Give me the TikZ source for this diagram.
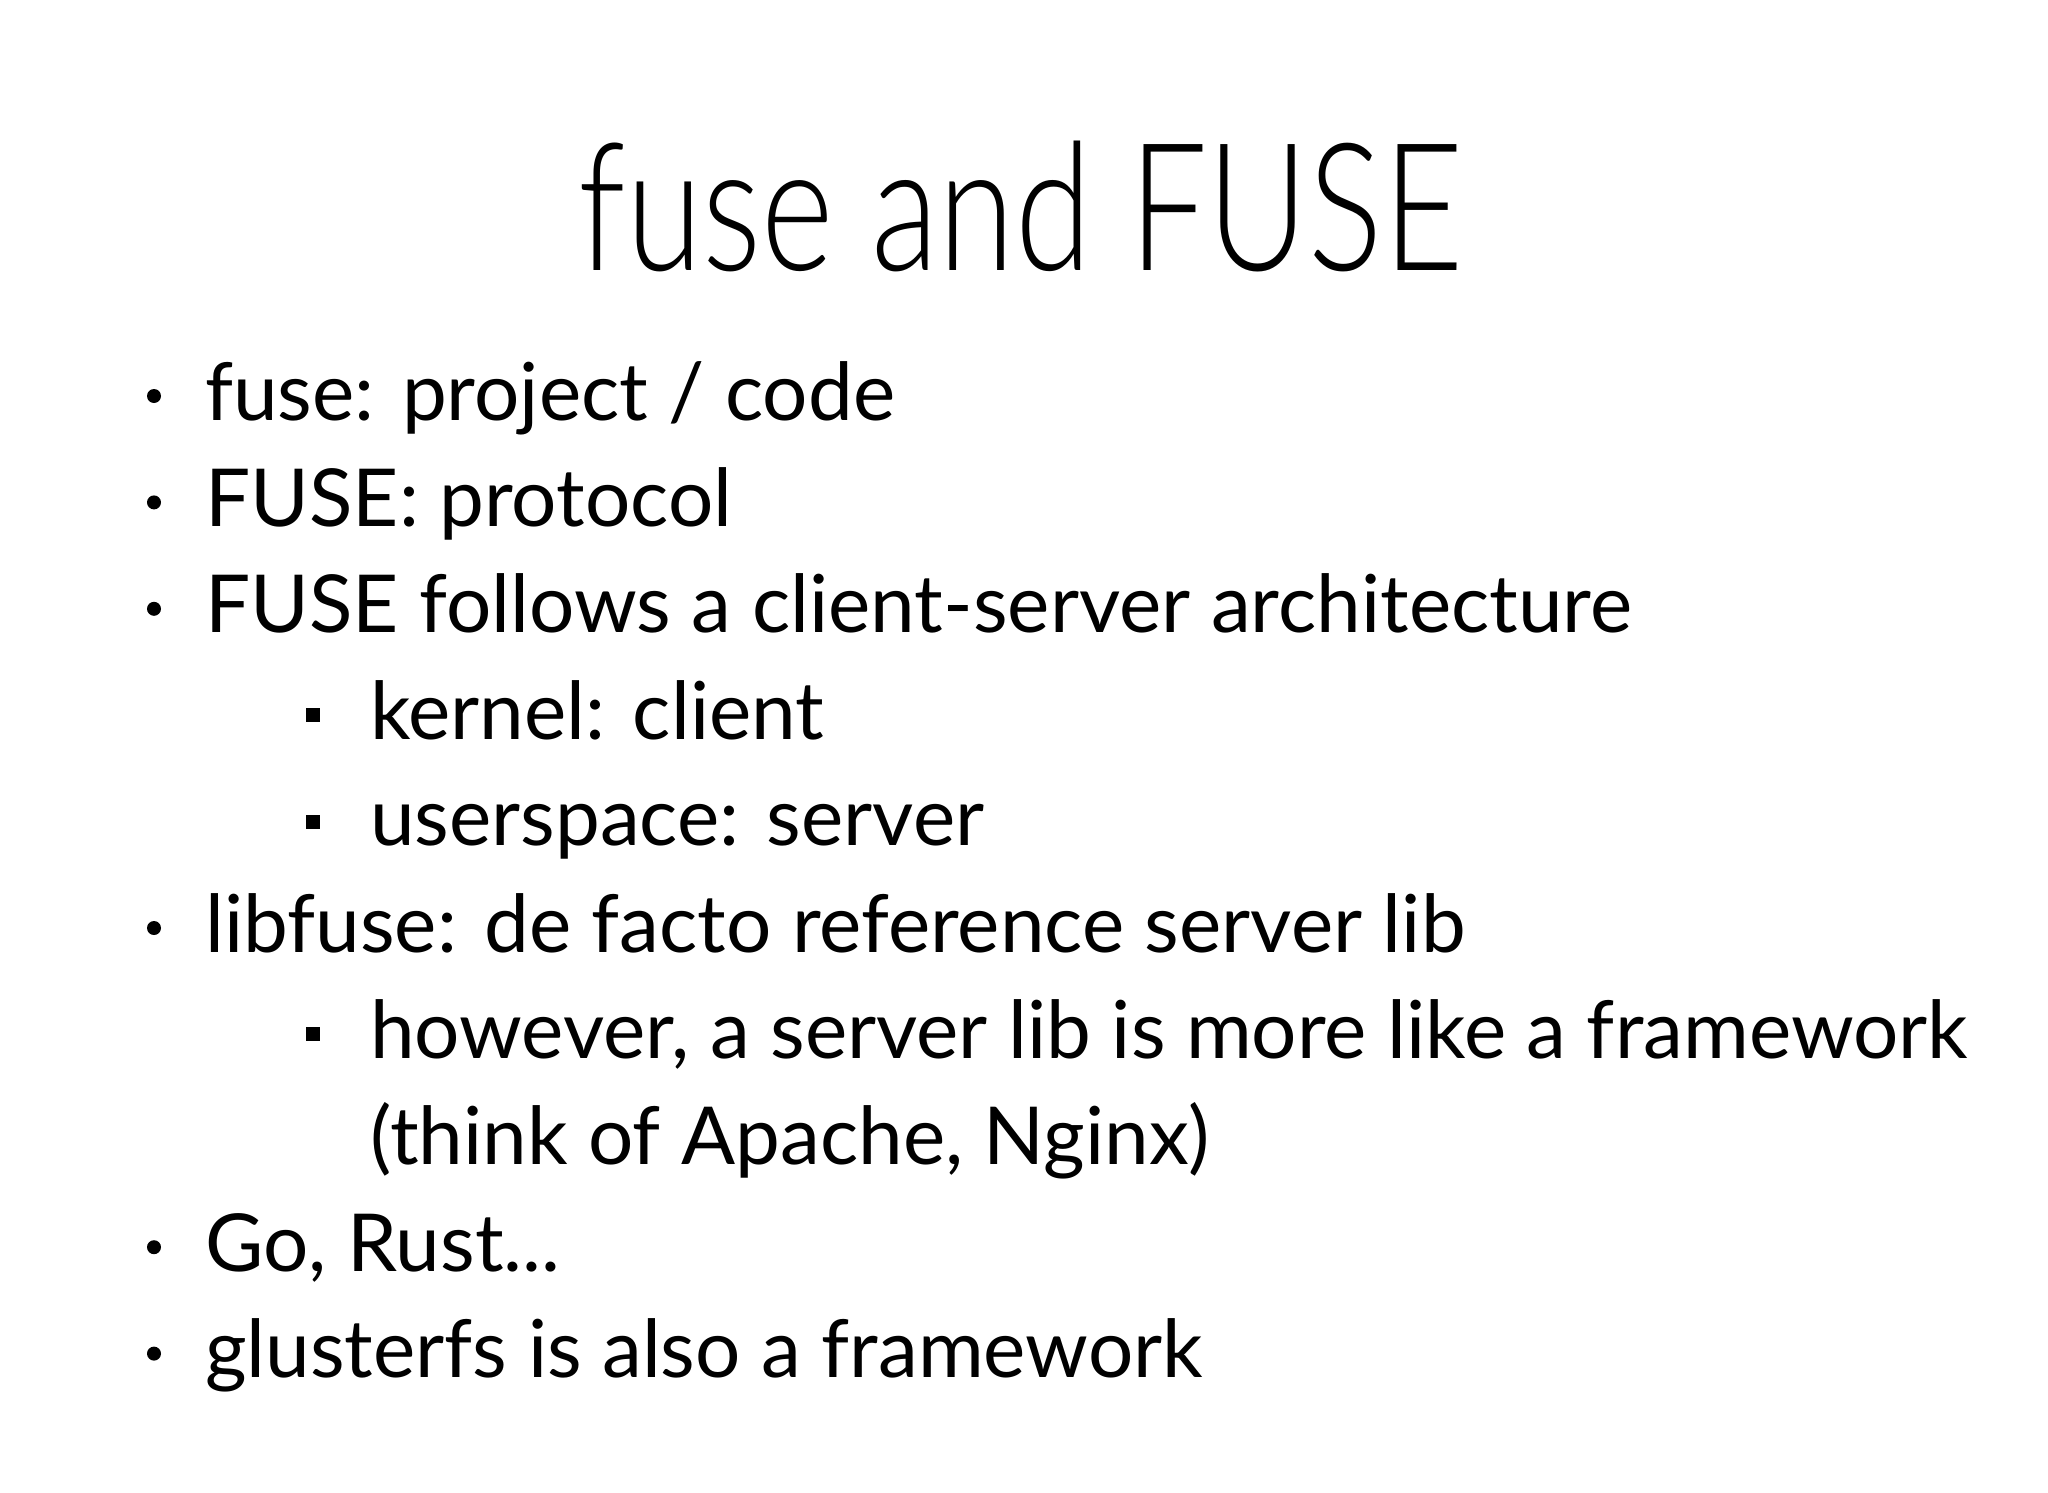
\documentclass[tikz,border=0pt]{standalone}
\usepackage{fontspec}
\setmainfont{Lato}
\newfontfamily\titlefont[FakeStretch=0.78]{Lato Light}
\begin{document}
\begin{tikzpicture}[x=1pt,y=-1pt,
  txt/.style={anchor=base west,inner sep=0pt,font=\fontsize{80}{96}\selectfont},
  dot/.style={circle,fill=black,inner sep=0pt,minimum size=14pt},
  sq/.style={rectangle,fill=black,inner sep=0pt,minimum size=14pt}]
\fill[white] (0,0) rectangle (2048,1493);
\useasboundingbox (0,0) rectangle (2048,1493);
\node[anchor=base,inner sep=0pt,font=\titlefont\fontsize{178}{200}\selectfont] (title) at (1021,270) {fuse and FUSE};
\def\B#1{420+106.4*#1}
\node[dot] (b1) at (154,{\B{0}-24}) {}; \node[txt] (t1) at (205,{\B{0}}) {fuse: project / code};
\node[dot] (b2) at (154,{\B{1}-24}) {}; \node[txt] (t2) at (205,{\B{1}}) {FUSE: protocol};
\node[dot] (b3) at (154,{\B{2}-24}) {}; \node[txt] (t3) at (205,{\B{2}}) {FUSE follows a client-server architecture};
\node[sq] (s1) at (313,{\B{3}-24}) {}; \node[txt] (t4) at (370,{\B{3}}) {kernel: client};
\node[sq] (s2) at (313,{\B{4}-24}) {}; \node[txt] (t5) at (370,{\B{4}}) {userspace: server};
\node[dot] (b4) at (154,{\B{5}-24}) {}; \node[txt] (t6) at (205,{\B{5}}) {libfuse: de facto reference server lib};
\node[sq] (s3) at (313,{\B{6}-24}) {}; \node[txt] (t7) at (370,{\B{6}}) {however, a server lib is more like a framework};
\node[txt] (t8) at (370,{\B{7}}) {(think of Apache, Nginx)};
\node[dot] (b5) at (154,{\B{8}-24}) {}; \node[txt] (t9) at (205,{\B{8}}) {Go, Rust...};
\node[dot] (b6) at (154,{\B{9}-24}) {}; \node[txt] (t10) at (205,{\B{9}}) {glusterfs is also a framework};
\end{tikzpicture}
\end{document}
